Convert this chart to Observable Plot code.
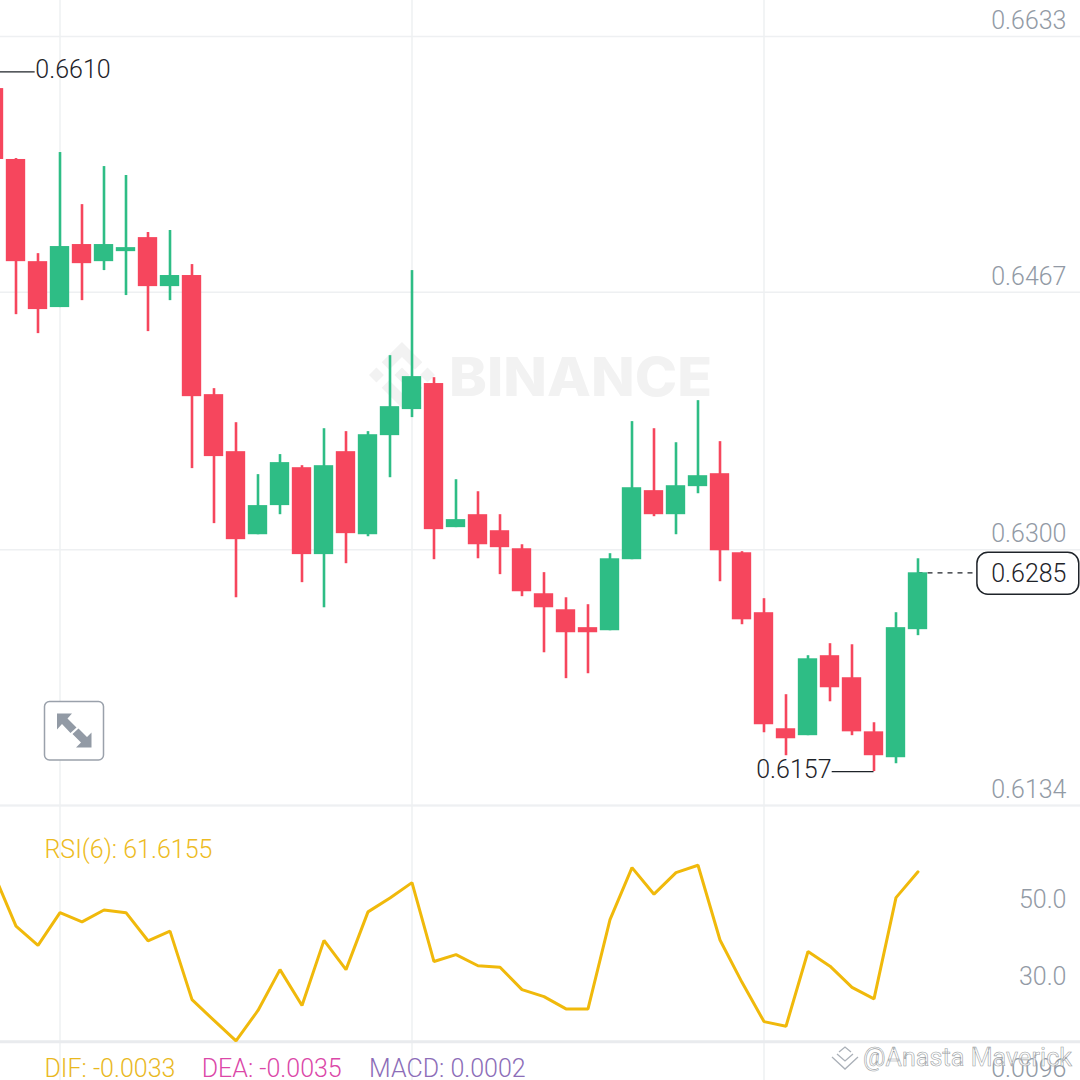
<!DOCTYPE html>
<html>
<head>
<meta charset="utf-8">
<script src="https://cdn.jsdelivr.net/npm/d3@7"></script>
<script src="https://cdn.jsdelivr.net/npm/@observablehq/plot@0.6"></script>
<style>
  html,body{margin:0;padding:0;background:#fff;}
  #chart{position:relative;width:1080px;height:1080px;overflow:hidden;background:#fff;font-family:Roboto,sans-serif;}
  #chart svg{position:absolute;left:0;top:0;}
</style>
</head>
<body>
<div id="chart"></div>
<script>
const open = [.65992,.65532,.64869,.64571,.64980,.64869,.64934,.65025,.64707,.64779,
  .64006,.63636,.63097,.63286,.63532,.62968,.63636,.63097,.63740,.63909,
  .64078,.63143,.63227,.63123,.63006,.62714,.62610,.62494,.62474,.62935,
  .63383,.63227,.63409,.63493,.62980,.62591,.61838,.61793,.62312,.62169,
  .61818,.61650,.62481];
const close = [.65532,.64869,.64558,.64967,.64856,.64980,.64960,.64707,.64779,.63993,
  .63604,.63065,.63286,.63565,.62968,.63545,.63104,.63746,.63928,.64123,
  .63130,.63195,.63032,.63013,.62727,.62623,.62461,.62461,.62941,.63402,
  .63227,.63415,.63480,.62993,.62545,.61864,.61773,.62292,.62104,.61818,
  .61663,.62494,.62850];
const high = [.66100,.65538,.64921,.65577,.65239,.65486,.65428,.65058,.65071,.64850,
  .64045,.63824,.63487,.63617,.63545,.63785,.63766,.63766,.64259,.64811,
  .64116,.63454,.63376,.63227,.63032,.62851,.62688,.62643,.62974,.63831,
  .63785,.63694,.63967,.63701,.62987,.62682,.62059,.62312,.62390,.62383,
  .61877,.62591,.62941];
const low = [.65532,.64525,.64402,.64571,.64616,.64811,.64649,.64415,.64616,.63526,
  .63169,.62688,.63097,.63227,.62786,.62623,.62909,.63084,.63467,.63857,
  .62935,.63143,.62941,.62838,.62695,.62331,.62163,.62195,.62474,.62935,
  .63214,.63097,.63363,.62792,.62513,.61812,.61663,.61793,.62013,.61793,
  .61560,.61611,.62442];
const rsi = [61.0,47.5,42.5,51.0,48.6,51.7,51.0,43.7,46.2,28.4,
  23.0,17.7,25.6,36.2,26.9,43.8,36.2,51.2,54.8,58.8,
  38.3,40.1,37.2,36.8,31.0,29.2,26.0,26.0,49.2,62.7,
  55.8,61.4,63.3,43.9,32.9,22.7,21.5,40.9,37.1,31.6,
  28.6,54.9,61.6];
const priceTicks = [0.6633,0.6467,0.6300,0.6134];
const rsiTicks = [30,50];
const timeGrid = [3,19,35];
const legendItems = ["DIF: -0.0033","DEA: -0.0035","MACD: 0.0002"];
const legendColors = ["#E9B81E","#DB47A8","#8C6DB8"];
const legendPos = [2.295,9.44,17.05];

const candles = open.map((o,i)=>({i,open:o,close:close[i],high:high[i],low:low[i]}));
const UP="#2EBD85", DOWN="#F6465D", INK="#1E2329", GRAY="#929AA5", GRID="#EEF0F2", YEL="#F0B90B";
const color = d=>d.close>=d.open?UP:DOWN;
const xs = {domain:[0,42],range:[-6.5,917.5]};
const FONT="Roboto, sans-serif";
const FS=25;

const root = document.getElementById("chart");

// watermark behind the chart
const back = `<svg width="1080" height="1080" viewBox="0 0 1080 1080">
  <g transform="translate(369,342) scale(.521)" fill="#F2F2F2"><path d="M38.73 53.2l24.59-24.58 24.6 24.6 14.3-14.31L63.32 0 24.43 38.9zM0 63.31l14.3-14.31 14.31 14.31-14.31 14.3zM38.73 73.41l24.59 24.59 24.6-24.6 14.31 14.29-38.9 38.91-38.91-38.88-.02-.02zM98.01 63.31l14.3-14.31 14.31 14.31-14.31 14.3zM77.83 63.3L63.32 48.78 52.59 59.51l-1.24 1.23-2.54 2.54 14.51 14.5 14.51-14.47z"/></g>
  <text x="449" y="396" font-family="Inter, Roboto, sans-serif" font-weight="800" font-size="54" fill="#F2F2F2" textLength="263" lengthAdjust="spacingAndGlyphs">BINANCE</text>
</svg>`;
root.insertAdjacentHTML("beforeend",back);

const main = Plot.plot({
  width:1080,height:1080,margin:0,
  style:{background:"transparent",fontFamily:FONT,overflow:"hidden"},
  x:{...xs,axis:null},
  y:{domain:[0.6134,0.6633],range:[805,36]},
  marks:[
    Plot.ruleX(timeGrid,{x:d=>d,stroke:GRID,strokeWidth:1.5,strokeOpacity:1}),
    Plot.ruleY(priceTicks,{y:d=>d,stroke:GRID,strokeWidth:1.5,strokeOpacity:1}),
    Plot.ruleY([0.6134],{y:d=>d,stroke:GRID,strokeWidth:2,strokeOpacity:1}),
    Plot.axisY(priceTicks,{anchor:"right",tickSize:0,tickPadding:-14,textAnchor:"end",dy:-15.5,label:null,
      tickFormat:d3.format(".4f"),fontSize:FS,fill:GRAY,fontWeight:300}),
    // last price line and box
    Plot.ruleY([0.6285],{y:d=>d,x1:42,x2:44.7,stroke:INK,strokeWidth:1.3,strokeDasharray:"5,5",strokeOpacity:1}),
    Plot.rect([{x1:44.7,x2:49.33,y1:0.62708,y2:0.62980}],{x1:"x1",x2:"x2",y1:"y1",y2:"y2",fill:"#fff",stroke:INK,strokeWidth:1.5,rx:11}),
    Plot.text([0.6285],{x:[48.75],y:d=>d,text:d=>d3.format(".4f")(d),textAnchor:"end",fill:INK,fontSize:FS,fontWeight:300,lineAnchor:"middle",dy:1.5}),
    // candles
    Plot.ruleX(candles,{x:"i",y1:"low",y2:"high",stroke:color,strokeWidth:2.6,strokeOpacity:1}),
    Plot.rect(candles,{x1:d=>d.i-0.44,x2:d=>d.i+0.44,y1:"open",y2:"close",fill:color,insetTop:0,insetBottom:0}),
    // high / low annotations
    Plot.ruleY([0.6610],{y:d=>d,x1:0,x2:1.87,stroke:INK,strokeWidth:1.3,strokeOpacity:1}),
    Plot.text([0.6610],{x:[1.88],y:d=>d,text:d=>d3.format(".4f")(d),textAnchor:"start",fill:INK,fontSize:FS,fontWeight:300,lineAnchor:"middle",dy:-1.5}),
    Plot.ruleY([0.6156],{y:d=>d,x1:38.1,x2:40,stroke:INK,strokeWidth:1.3,strokeOpacity:1}),
    Plot.text([0.6156],{x:[38.07],y:d=>d,text:()=>"0.6157",textAnchor:"end",fill:INK,fontSize:FS,fontWeight:300,lineAnchor:"middle",dy:-1.5})
  ]
});
root.appendChild(main);

const lower = Plot.plot({
  width:1080,height:1080,margin:0,
  style:{background:"transparent",fontFamily:FONT,overflow:"hidden"},
  x:{...xs,axis:null},
  y:{domain:[30,50],range:[993,916]},
  marks:[
    Plot.ruleY([17.5],{y:d=>d,stroke:"#E9EBEE",strokeWidth:3,strokeOpacity:1}),
    Plot.line(rsi,{x:(d,i)=>i,y:d=>d,stroke:YEL,strokeWidth:3,strokeLinejoin:"miter"}),
    Plot.axisY(rsiTicks,{anchor:"right",tickSize:0,tickPadding:-14,textAnchor:"end",dy:-16.5,label:null,
      tickFormat:d3.format(".1f"),fontSize:FS,fill:GRAY,fontWeight:300}),
    Plot.text(["RSI(6): 61.6155"],{x:[2.295],y:[67.4],text:d=>d,textAnchor:"start",fill:"#EDBB22",fontSize:FS,fontWeight:300,lineAnchor:"middle"}),
    Plot.text(legendItems,{x:legendPos,y:[10.5,10.5,10.5],text:d=>d,fill:legendColors,textAnchor:"start",fontSize:FS,fontWeight:300,lineAnchor:"middle"}),
    Plot.text(["0.0096"],{x:[48.75],y:[10.5],text:d=>d,textAnchor:"end",fill:GRAY,fontSize:FS,fontWeight:300,lineAnchor:"middle"})
  ]
});
root.appendChild(lower);

// expand button and author stamp
const front = `<svg width="1080" height="1080" viewBox="0 0 1080 1080">
  <rect x="44.5" y="701.5" width="59" height="58.5" rx="5" fill="#fff" stroke="#9AA1AB" stroke-width="1.5"/>
  <g fill="#929AA5">
    <path d="M57 713.5H72L67.5 718.5L76.5 727.5L70.5 733L62 724L57 729.5Z"/>
    <path d="M91.5 747.5H76L81 742.5L72.5 734L78.5 728.5L87 737L91.5 732.5Z"/>
  </g>
  <g fill="none" stroke="#AAB0B8" stroke-width="1.3">
    <path d="M832 1057L845 1069L858 1057"/>
    <path d="M837 1054L845 1061L853 1054"/>
    <path d="M839 1052L845 1047L851 1052"/>
  </g>
  <text x="863" y="1066" font-family="Roboto, sans-serif" font-size="25" textLength="209" fill="#ffffff" fill-opacity=".75" stroke="#9C9FA4" stroke-width=".6">@Anasta Maverick</text>
</svg>`;
root.insertAdjacentHTML("beforeend",front);
</script>
</body>
</html>
